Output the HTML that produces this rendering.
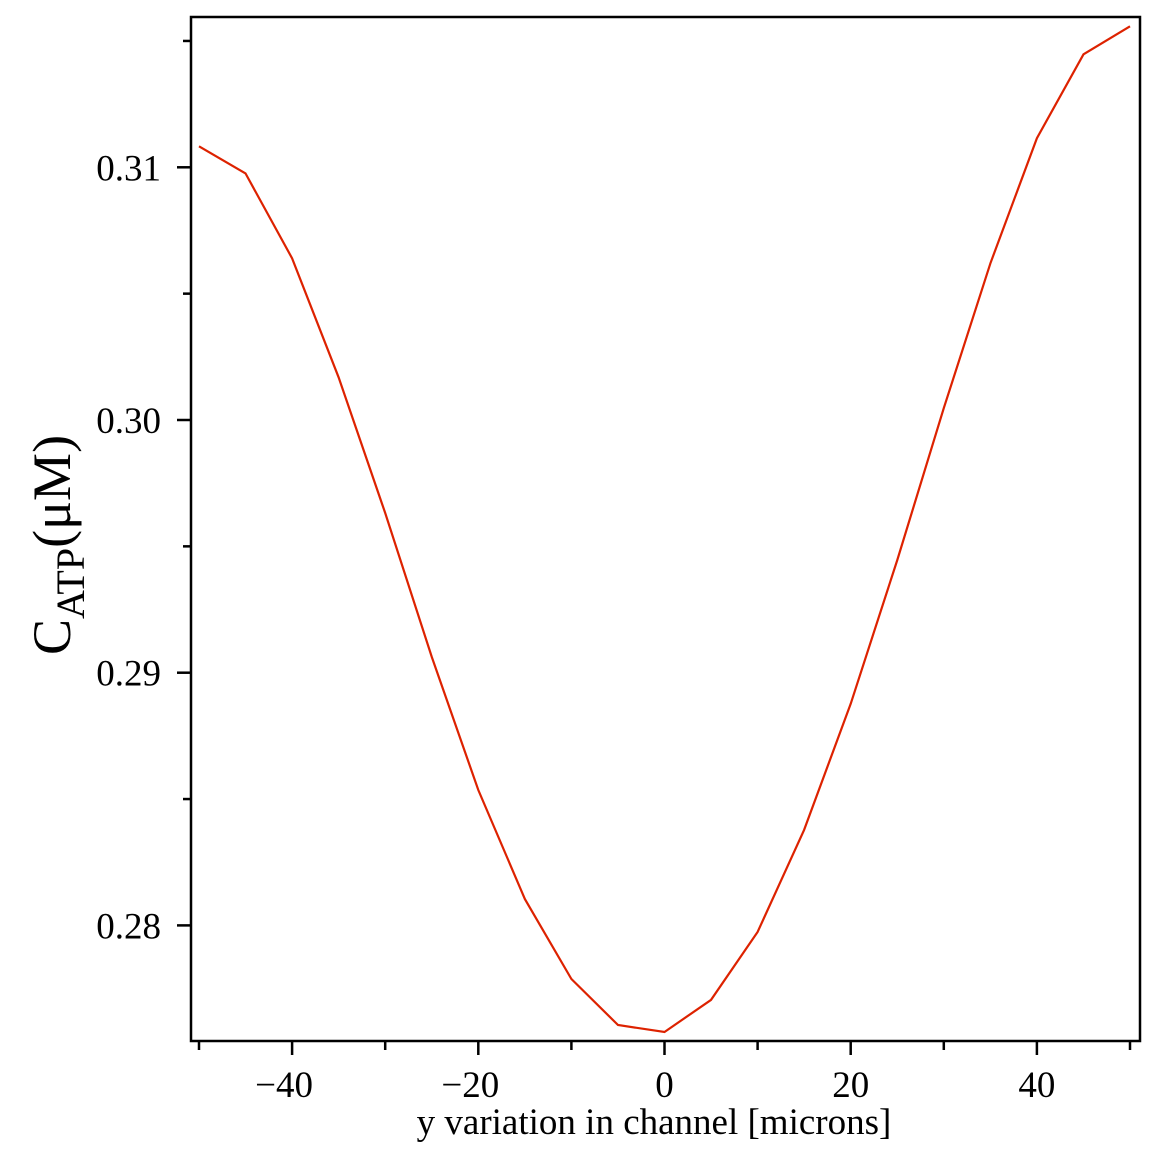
<!DOCTYPE html>
<html><head><meta charset="utf-8"><style>
html,body{margin:0;padding:0;background:#fff;}
svg text{font-family:"Liberation Serif",serif;fill:#000;}
</style></head><body>
<svg id="chart" width="1157" height="1157" viewBox="0 0 1157 1157">
<rect x="191" y="17" width="949" height="1024" fill="none" stroke="#000" stroke-width="2.5"/>
<g id="xticks"></g>
<g id="yticks"></g>
<path id="line" fill="none" stroke="#dd2200" stroke-width="2.2"/>
<text x="654" y="1134" font-size="37" text-anchor="middle">y variation in channel [microns]</text>
<text transform="translate(70,545) rotate(-90)" font-size="54" text-anchor="middle">C<tspan font-size="40" dy="14">ATP</tspan><tspan dy="-14">(μM)</tspan></text>
</svg>
<script>
const xValues=[-50,-45,-40,-35,-30,-25,-20,-15,-10,-5,0,5,10,15,20,25,30,35,40,45,50];
const yValues=[0.31083,0.30976,0.30640,0.30169,0.29632,0.29062,0.28536,0.28104,0.27788,0.27606,0.27578,0.27705,0.27974,0.28378,0.28877,0.29446,0.30047,0.30620,0.31115,0.31447,0.31558];
const xTickLabels=[-40,-20,0,20,40];
const xMinorTicks=[-50,-30,-10,10,30,50];
const yTickLabels=[0.28,0.29,0.30,0.31];
const yMinorTicks=[0.285,0.295,0.305,0.315];
const NS="http://www.w3.org/2000/svg";
function sx(v){return 664.5+v*9.31;}
function sy(v){return 420-(v-0.30)*25270;}
const d=xValues.map((x,i)=>(i?"L":"M")+sx(x).toFixed(1)+","+sy(yValues[i]).toFixed(1)).join(" ");
document.getElementById('line').setAttribute('d',d);
const xg=document.getElementById('xticks'),yg=document.getElementById('yticks');
function ln(g,x1,y1,x2,y2,name){const l=document.createElementNS(NS,'line');
l.setAttribute('x1',x1);l.setAttribute('y1',y1);l.setAttribute('x2',x2);l.setAttribute('y2',y2);
l.setAttribute('stroke','#000');l.setAttribute('stroke-width','2.5');


g.appendChild(l);}
function tx(g,x,y,s,anchor,name){const t=document.createElementNS(NS,'text');
t.setAttribute('x',x);t.setAttribute('y',y);t.setAttribute('font-size','37');t.setAttribute('text-anchor',anchor);
t.textContent=s;


g.appendChild(t);}
xTickLabels.forEach(v=>{ln(xg,sx(v),1041,sx(v),1055,'x-major-tick');
tx(xg,sx(v)+(v<0?-8:0),1097,v<0?"\u2212"+(-v):String(v),'middle','x-tick-label');});
xMinorTicks.forEach(v=>ln(xg,sx(v),1041,sx(v),1050,'x-minor-tick'));
yTickLabels.forEach(v=>{ln(yg,177,sy(v),191,sy(v),'y-major-tick');
tx(yg,161,sy(v)+13,v.toFixed(2),'end','y-tick-label');});
yMinorTicks.forEach(v=>ln(yg,183,sy(v),191,sy(v),'y-minor-tick'));
</script>
</body></html>
